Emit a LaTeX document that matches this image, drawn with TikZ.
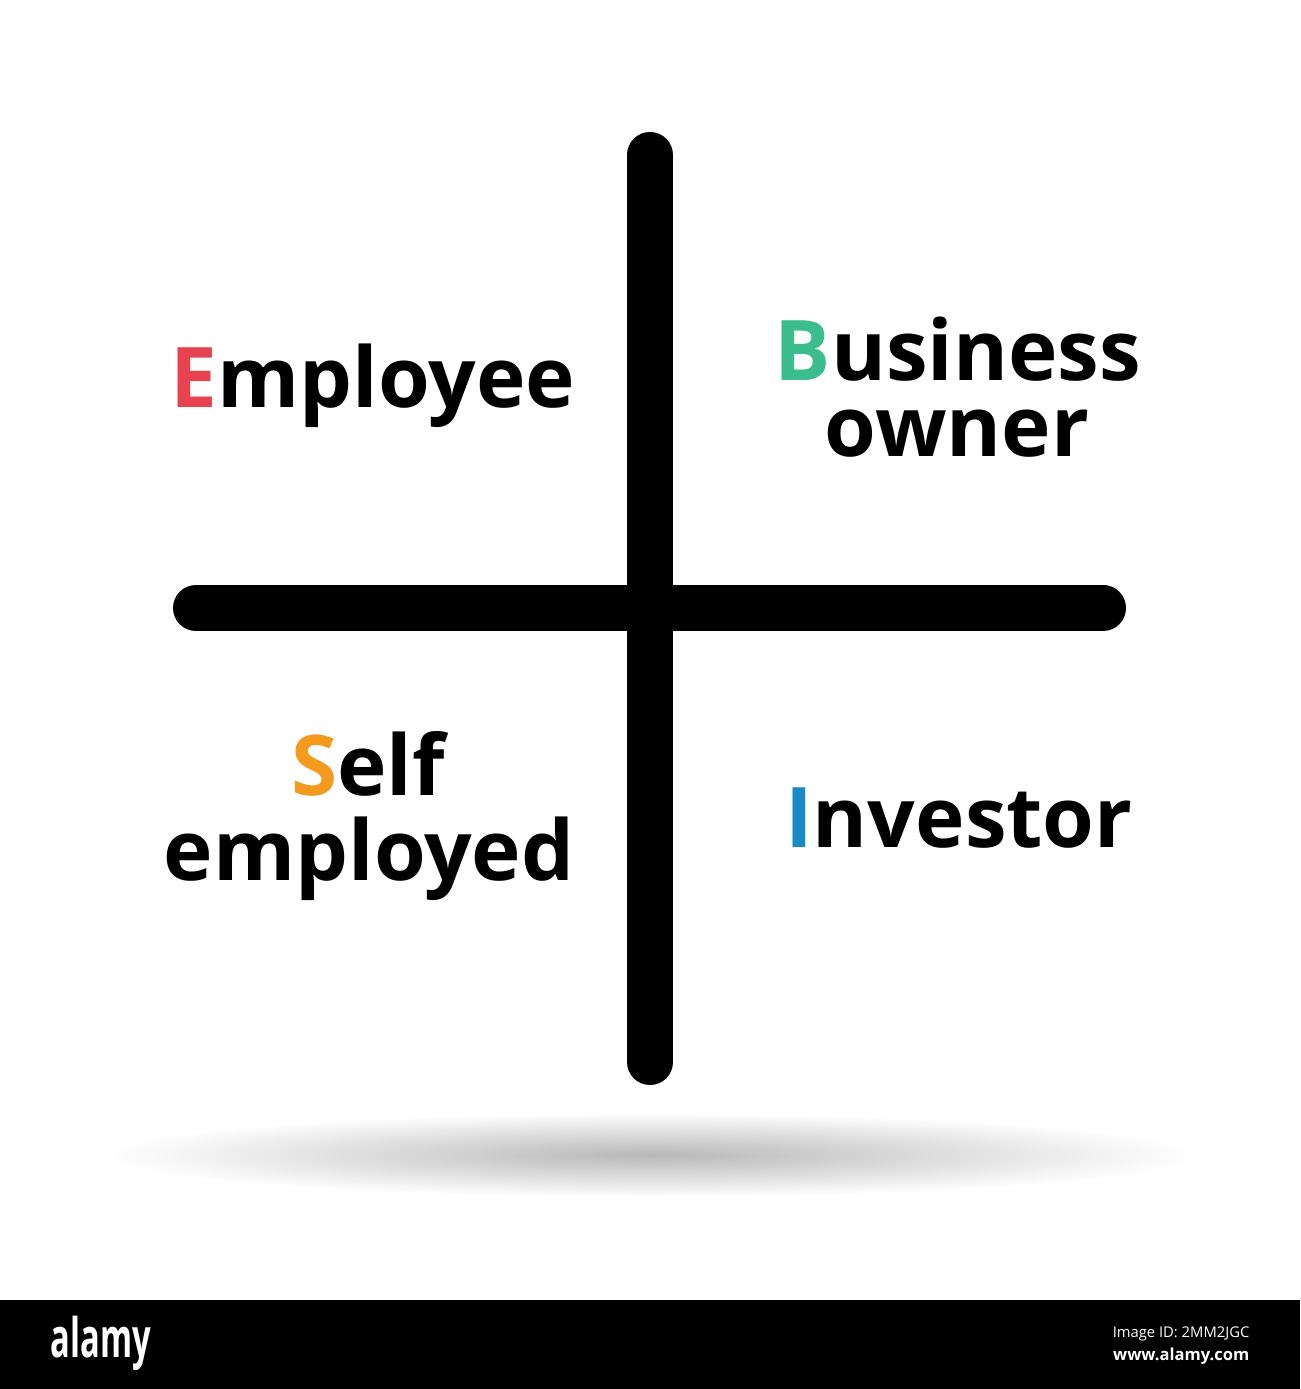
\documentclass[tikz,border=0pt]{standalone}
\usepackage{fontspec}
\newfontfamily\quadfont{Open Sans}
\definecolor{empred}{HTML}{E8414F}
\definecolor{busgreen}{HTML}{3BBD8E}
\definecolor{selforange}{HTML}{F39A1F}
\definecolor{invblue}{HTML}{1A8AC6}

\begin{document}
\begin{tikzpicture}[x=0.01cm,y=-0.01cm]
  \tikzstyle{every node}=[inner sep=0pt,anchor=base]
  \tikzstyle{quad}=[font=\quadfont\bfseries\fontsize{23.8}{23.8}\selectfont]
  \tikzstyle{bar}=[line width=0.46cm,line cap=round]

  \useasboundingbox (0,0) rectangle (1300,1389);
  \fill[white] (0,0) rectangle (1300,1389);

  % Define the shadow under the cross
  \shade[inner color=black!28,outer color=white] (650,1155) ellipse (545 and 42);

  % Define the ends of the cross
  \coordinate (top) at (650,155);
  \coordinate (bottom) at (650,1062);
  \coordinate (left) at (196,608);
  \coordinate (right) at (1103,608);

  % Draw the cross
  \draw[bar] (top) -- (bottom);
  \draw[bar] (left) -- (right);

  % Define the quadrant labels
  \node[quad] (employee) at (373,408) {\textcolor{empred}{E}mployee};
  \node[quad] (business) at (958,381) {\textcolor{busgreen}{B}usiness};
  \node[quad] (owner) at (957,457) {owner};
  \node[quad] (self) at (368,795) {\textcolor{selforange}{S}elf};
  \node[quad] (employed) at (369,880) {employed};
  \node[quad] (investor) at (959,847) {\textcolor{invblue}{I}nvestor};

  % Define the footer
  \fill[black] (0,1300) rectangle (1300,1389);
  \node[anchor=base west,text=white,font=\quadfont\bfseries\fontsize{15.5}{15.5}\selectfont] (logo) at (50,1357) {\scalebox{0.6}[1]{alamy}};
  \node[anchor=base east,text=white,font=\quadfont\fontsize{4.2}{4.2}\selectfont] (imageid) at (1250,1337) {Image ID: 2MM2JGC};
  \node[anchor=base east,text=white,font=\quadfont\bfseries\fontsize{4.7}{4.7}\selectfont] (site) at (1250,1360) {www.alamy.com};
\end{tikzpicture}
\end{document}
